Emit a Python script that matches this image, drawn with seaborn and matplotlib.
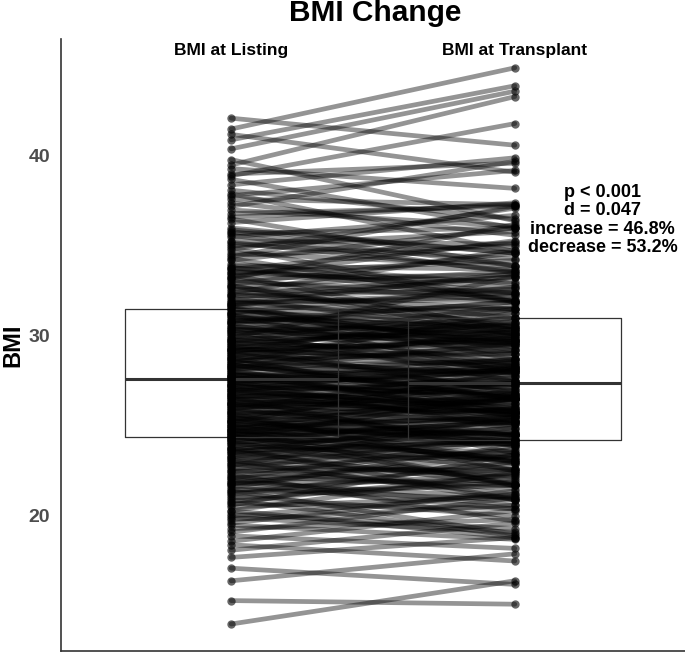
import matplotlib
matplotlib.use('Agg')
import matplotlib.pyplot as plt
import matplotlib.transforms as mtransforms
import seaborn as sns
import pandas as pd

# BMI por paciente (listagem -> transplante)
categorias = ['BMI at Listing', 'BMI at Transplant']

bmi_listing = [
    14.0, 15.3,
    16.4, 17.1, 17.7,
    18.1, 18.4, 18.6, 18.9, 19.1, 19.3, 19.5, 19.6, 19.8, 19.9,
    20.0, 20.1, 20.3, 20.3, 20.5, 20.6, 20.7, 20.8, 20.9, 21.0, 21.1,
    21.2, 21.3, 21.4, 21.4, 21.5, 21.6, 21.7, 21.8, 21.8, 21.9, 21.9,
    22.0, 22.1, 22.1, 22.2, 22.3, 22.4, 22.5, 22.5, 22.6, 22.7, 22.8,
    22.9, 22.9, 23.0, 23.1, 23.1, 23.2, 23.3, 23.3, 23.4, 23.5, 23.5,
    23.6, 23.6, 23.7, 23.7, 23.8, 23.8, 23.9, 24.4, 24.6, 24.8, 25.0,
    24.0, 24.0, 24.1, 24.1, 24.2, 24.2, 24.3, 24.3, 24.4, 24.4, 24.5,
    24.5, 24.6, 24.6, 24.7, 24.7, 24.8, 24.8, 24.9, 24.9, 25.0, 25.0,
    25.1, 25.1, 25.2, 25.2, 25.3, 25.3, 25.4, 25.4, 25.5, 25.5, 25.6,
    25.6, 25.7, 25.7, 25.8, 25.8, 25.9, 25.9, 24.5, 25.3,
    26.0, 26.0, 26.1, 26.1, 26.2, 26.2, 26.3, 26.3, 26.4, 26.4, 26.5,
    26.5, 26.6, 26.6, 26.7, 26.7, 26.8, 26.8, 26.9, 26.9, 27.0, 27.0,
    27.1, 27.1, 27.2, 27.2, 27.3, 27.3, 27.4, 27.4, 27.5, 27.5, 27.6,
    27.6, 27.7, 27.7, 27.8, 27.8, 27.9, 27.9, 26.2, 26.6, 27.0, 27.3,
    27.6, 27.8,
    28.0, 28.0, 28.1, 28.1, 28.2, 28.2, 28.3, 28.3, 28.4, 28.4, 28.5,
    28.5, 28.6, 28.6, 28.7, 28.7, 28.8, 28.8, 28.9, 28.9, 29.0, 29.0,
    29.1, 29.1, 29.2, 29.2, 29.3, 29.3, 29.4, 29.4, 29.5, 29.5, 29.6,
    29.6, 29.7, 29.7, 29.8, 29.8, 29.9, 29.9, 28.4, 29.2,
    30.0, 30.1, 30.1, 30.2, 30.3, 30.3, 30.4, 30.5, 30.5, 30.6, 30.7,
    30.7, 30.8, 30.9, 30.9, 31.0, 31.1, 31.1, 31.2, 31.3, 31.3, 31.4,
    31.5, 31.5, 31.6, 31.7, 31.7, 31.8, 31.9, 31.9, 30.4, 30.8, 31.2,
    31.6, 31.8,
    32.0, 32.1, 32.2, 32.3, 32.4, 32.5, 32.6, 32.7, 32.8, 32.9, 33.0,
    33.1, 33.2, 33.3, 33.4, 33.5, 33.6, 33.7, 33.8, 33.9, 32.3, 32.8,
    33.2, 33.5, 33.8,
    34.0, 34.2, 34.3, 34.5, 34.6, 34.8, 34.9, 35.0, 35.2, 35.3, 35.5,
    35.6, 35.7, 35.9, 34.4, 35.1, 35.8,
    36.0, 36.3, 36.5, 36.8, 37.0, 37.2, 37.4, 37.6, 37.8, 37.9, 36.6,
    38.1, 38.4, 38.7, 39.0, 39.3, 39.5, 39.8, 38.9,
    40.4, 40.9, 41.2, 41.5, 42.1,
]

bmi_transplant = [
    16.4, 15.1,
    17.9, 16.2, 18.8,
    19.6, 17.5, 20.3, 18.2, 21.0, 19.8, 18.7, 21.4, 20.6, 19.1,
    21.2, 19.3, 22.4, 18.8, 21.1, 23.4, 20.4, 22.3, 18.9, 21.9, 20.0,
    23.0, 21.7, 19.0, 22.4, 20.9, 23.9, 20.4, 22.0, 23.4, 21.0, 22.6,
    20.6, 22.9, 24.3, 21.7, 19.7, 23.7, 22.6, 21.5, 24.5, 22.5, 25.5,
    21.2, 23.4, 22.2, 24.2, 20.9, 23.5, 24.9, 22.1, 24.3, 23.1, 25.5,
    21.7, 24.2, 23.6, 25.1, 20.9, 24.0, 24.9, 23.2, 25.7, 21.7, 24.2,
    23.1, 25.7, 21.8, 24.5, 25.3, 22.6, 26.8, 24.0, 25.2, 23.2, 24.6,
    21.7, 26.5, 24.0, 26.0, 24.6, 27.0, 23.0, 25.5, 24.5, 26.5, 22.9,
    25.4, 24.1, 28.1, 24.5, 26.5, 23.9, 25.9, 25.2, 27.3, 23.0, 26.5,
    24.5, 25.9, 22.5, 27.4, 25.3, 28.3, 24.6, 25.2, 24.5,
    26.6, 24.1, 27.5, 25.8, 26.3, 25.1, 26.5, 23.9, 27.4, 25.8, 25.9,
    25.6, 27.0, 23.5, 26.1, 26.5, 27.7, 25.3, 28.2, 26.2, 28.4, 25.8,
    27.2, 25.1, 26.7, 26.8, 28.0, 25.6, 28.5, 26.6, 28.0, 24.8, 28.7,
    27.5, 26.6, 26.3, 28.1, 27.3, 27.1, 25.7, 25.6, 27.8, 26.0, 28.1,
    26.0, 28.2,
    26.7, 28.7, 25.5, 29.6, 28.0, 30.4, 27.3, 28.6, 26.6, 29.5, 28.0,
    31.3, 26.5, 29.2, 27.8, 30.1, 25.8, 29.0, 30.8, 28.3, 27.5, 29.9,
    29.0, 31.5, 26.9, 29.7, 28.5, 31.0, 28.2, 29.5, 30.7, 26.8, 30.4,
    29.2, 31.7, 28.1, 30.2, 28.7, 33.3, 29.6, 26.5, 29.8,
    28.3, 31.0, 29.7, 29.9, 27.5, 30.6, 29.4, 29.6, 30.3, 28.4, 31.9,
    30.0, 31.3, 29.0, 30.1, 30.5, 29.8, 30.4, 27.9, 31.5, 32.7, 30.5,
    29.5, 30.0, 31.5, 33.5, 29.2, 32.2, 30.7, 32.0, 29.8, 31.9, 29.7,
    28.7, 32.4,
    33.3, 30.1, 32.6, 31.5, 34.8, 31.0, 32.3, 33.6, 30.1, 34.6, 32.4,
    31.9, 33.4, 35.3, 30.3, 34.2, 32.7, 35.2, 32.0, 33.7, 33.3, 30.5,
    36.2, 33.0, 32.4,
    32.9, 36.0, 31.9, 35.0, 33.9, 37.1, 31.9, 35.8, 33.6, 35.1, 36.7,
    33.5, 36.0, 34.6, 37.2, 34.3, 33.9,
    34.6, 37.4, 33.9, 37.2, 36.1, 39.7, 35.6, 37.3, 39.2, 34.7, 37.3,
    36.5, 39.9, 36.0, 39.6, 38.2, 43.3, 36.4, 41.8,
    43.6, 43.9, 39.1, 44.9, 40.6,
]

anotacao = ['p < 0.001', 'd = 0.047', 'increase = 46.8%', 'decrease = 53.2%']

n = len(bmi_listing)
df = pd.DataFrame({
    'id': list(range(n)) * 2,
    'momento': [categorias[0]] * n + [categorias[1]] * n,
    'bmi': bmi_listing + bmi_transplant,
})
df['pos'] = df['momento'].map({c: i for i, c in enumerate(categorias)})

sns.set_theme(style='white')
plt.rcParams['font.family'] = ['Liberation Sans', 'DejaVu Sans']

fig = plt.figure(figsize=(6.85, 6.53), dpi=100)
ax = fig.add_axes([61 / 685, 2 / 653, 624 / 685, 612 / 653])

# Linhas pareadas
sns.lineplot(
    data=df, x='pos', y='bmi', units='id', estimator=None,
    color='black', alpha=0.42, linewidth=3.4, ax=ax, legend=False
)

# Boxplot
sns.boxplot(
    data=df, x='pos', y='bmi', native_scale=True, width=0.75,
    showfliers=False, showcaps=False, fill=False, color='#333333',
    linewidth=0.9, whis=0, medianprops={'linewidth': 2.2}, ax=ax
)

# Pontos
sns.stripplot(
    data=df, x='pos', y='bmi', native_scale=True, jitter=False,
    color='black', alpha=0.6, size=6, linewidth=0, ax=ax, zorder=5
)

ax.set_xlim(-0.6, 1.6)
ax.set_ylim(12.5, 46.5)
ax.set_xticks([])
ax.set_yticks([20, 30, 40])
ax.tick_params(axis='y', length=0, pad=8, labelsize=14, labelcolor='#4d4d4d')
for lbl in ax.get_yticklabels():
    lbl.set_fontweight('bold')
ax.set_xlabel('')
ax.set_ylabel('BMI', fontsize=17, fontweight='bold', color='black', labelpad=3)

for s in ['top', 'right']:
    ax.spines[s].set_visible(False)
for s in ['left', 'bottom']:
    ax.spines[s].set_color('#333333')
    ax.spines[s].set_linewidth(1.2)

trans = mtransforms.blended_transform_factory(ax.transData, ax.transAxes)
for i, c in enumerate(categorias):
    ax.text(i, 0.981, c, transform=trans, ha='center', va='center',
            fontsize=12.5, fontweight='bold', color='black')

ax.text(1.31, 36.45, '\n'.join(anotacao), ha='center', va='center',
        fontsize=13, fontweight='bold', color='black', linespacing=1.1)

fig.text(375 / 685, 1 - 13 / 653, 'BMI Change', ha='center', va='center',
         fontsize=21.5, fontweight='bold', color='black')

plt.savefig('out.png', dpi=100)
